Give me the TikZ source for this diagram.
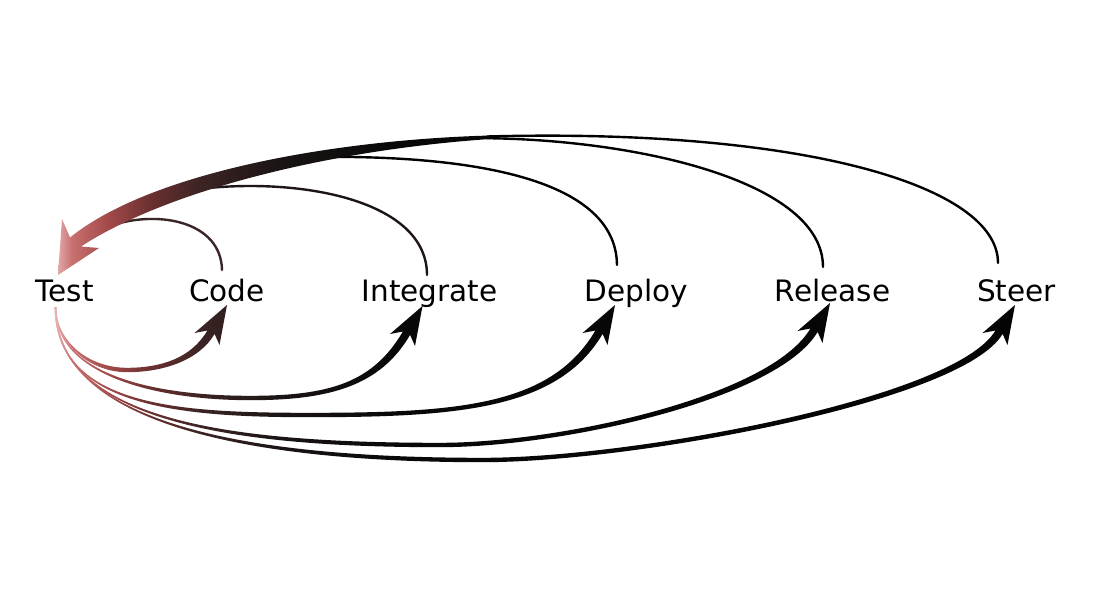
\documentclass[tikz,border=0pt]{standalone}
\usepackage{fontspec}
\setmainfont{DejaVu Sans}
\usepackage{tikz}
\usetikzlibrary{calc}

\definecolor{fadeA}{HTML}{E8B4B4}
\definecolor{fadeB}{HTML}{C87070}
\definecolor{fadeC}{HTML}{A04848}
\definecolor{fadeD}{HTML}{6A3030}
\definecolor{fadeE}{HTML}{3C2424}
\definecolor{fadeF}{HTML}{1A1414}
\definecolor{fadeG}{HTML}{080808}
\definecolor{codeline}{HTML}{3A2626}
\definecolor{intline}{HTML}{1E1616}

% red near Test, black further right (shading laid over the whole width)
\pgfdeclarehorizontalshading{testfade}{100bp}{color(0bp)=(fadeA); color(25.7bp)=(fadeA);
  color(26.5bp)=(fadeB); color(28.3bp)=(fadeC); color(30.2bp)=(fadeD); color(32.5bp)=(fadeE);
  color(36.3bp)=(fadeF); color(41.9bp)=(fadeG); color(100bp)=(black)}

\tikzset{
  stagelabel/.style={anchor=base, inner sep=0pt, font=\fontsize{29.5}{32}\selectfont},
  backline/.style={line width=2.4pt, line cap=round},
}

% tapered arrow: #1 start, #2 tip, #3 low point, #4 drop at start,
% #5 handle into low point, #6 handle out of low point, #7 end handle
\newcommand{\flowarrow}[7]{
  \path (#2) coordinate (t) ++(-20,34) coordinate (m)
    (m) ++(-12.5,-6) coordinate (b1)
    (m) ++(12.5,6) coordinate (b2)
    (m) ++(0.4,-8.5) coordinate (n1)
    (m) ++(7.6,-5.1) coordinate (n2)
    (#3) coordinate (p);
  \begin{scope}
    \clip ($(#1)+(0.8,0)$) .. controls ($(#1)+(0.8,#4)$) and ($(p)+(-#5,-2.2)$) .. ($(p)+(0,-2.2)$)
      .. controls ($(p)+(#6,-2.2)$) and ($(n1)+(-20*#7,34*#7)$) .. (n1)
      -- (b1) -- (t) -- (b2) -- (n2)
      .. controls ($(n2)+(-20*#7,34*#7)$) and ($(p)+(#6,2.2)$) .. ($(p)+(0,2.2)$)
      .. controls ($(p)+(-#5,2.2)$) and ($(#1)+(-0.8,#4)$) .. ($(#1)+(-0.8,0)$) -- cycle;
    \shade[shading=testfade] (40,100) rectangle (1104,500);
  \end{scope}
}

\begin{document}
\begin{tikzpicture}[x=1pt,y=-1pt]
  \fill[white] (0,0) rectangle (1104,600);
  \useasboundingbox (0,0) rectangle (1104,600);

  % stages
  \node[stagelabel] (test) at (64.5,301) {Test};
  \node[stagelabel] (code) at (227,301) {Code};
  \node[stagelabel] (integrate) at (429.5,301) {Integrate};
  \node[stagelabel] (deploy) at (636.5,301) {Deploy};
  \node[stagelabel] (release) at (832.5,301) {Release};
  \node[stagelabel] (steer) at (1016.5,301) {Steer};

  % feedback lines back into Test
  \coordinate (back) at ($(test.base)+(-6.5,-26)$);
  \coordinate (merge) at (490,137);
  \coordinate (joinD) at (314,157);
  \coordinate (joinI) at (199,189);
  \coordinate (joinC) at (113,225);
  \draw[backline, black] ($(steer.base)+(-18.5,-38)$) .. controls (998,185) and (800,128) .. ($(merge)+(-3,-0.5)$);
  \draw[backline, black] ($(release.base)+(-9.5,-34)$) .. controls (823,182) and (640,140) .. ($(merge)+(-3,1.2)$);
  \draw[backline, black] ($(deploy.base)+(-19.5,-36)$) .. controls (616,175) and (460,155) .. (joinD);
  \draw[backline, intline] ($(integrate.base)+(-2.5,-26)$) .. controls (427,200) and (300,177) .. (joinI);
  \draw[backline, codeline] ($(code.base)+(-5,-31)$) .. controls (221,222) and (160,210) .. (joinC);
  \begin{scope}
    \clip ($(merge)+(0,-1.5)$) .. controls (330,140) and (150,173) .. ($(back)+(12,-37.5)$)
      -- ($(back)+(4,-56)$) -- (back) -- ($(back)+(41,-27)$) -- ($(back)+(23,-28.5)$)
      .. controls (168,190) and (330,150) .. ($(merge)+(0,2)$) -- cycle;
    \shade[shading=testfade] (40,100) rectangle (1104,500);
  \end{scope}

  % loops from Test out to every stage
  \coordinate (out) at ($(test.base)+(-9,6)$);
  \flowarrow{out}{$(steer.base)+(-1.5,4)$}{483,460}{120}{225}{150}{2}
  \flowarrow{out}{$(release.base)+(-2.5,2)$}{440,445}{115}{205}{120}{2}
  \flowarrow{out}{$(deploy.base)+(-21.5,4)$}{310,415}{100}{130}{150}{2.2}
  \flowarrow{out}{$(integrate.base)+(-7,5)$}{250,398}{70}{90}{80}{1.5}
  \flowarrow{out}{$(code.base)+(0,4)$}{127,370}{35}{38}{35}{0.8}
\end{tikzpicture}
\end{document}
